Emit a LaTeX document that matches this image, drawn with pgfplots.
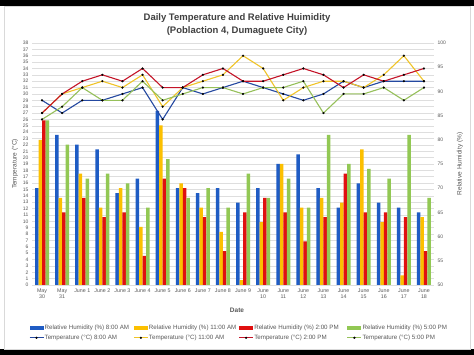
\documentclass[border=0pt]{standalone}
\usepackage{fontspec}
\setmainfont{Liberation Sans}
\usepackage{pgfplots}
\usepackage{pgfplotstable}
\pgfplotsset{compat=1.18}

\definecolor{hblue}{RGB}{31,92,196}
\definecolor{hyellow}{RGB}{252,192,0}
\definecolor{hred}{RGB}{224,16,16}
\definecolor{hgreen}{RGB}{146,200,84}
\definecolor{tblue}{RGB}{36,72,160}
\definecolor{tyellow}{RGB}{240,196,40}
\definecolor{tred}{RGB}{196,20,40}
\definecolor{tgreen}{RGB}{150,192,90}
\definecolor{txt}{RGB}{89,89,89}
\definecolor{ttl}{RGB}{64,64,64}
\definecolor{grd}{RGB}{222,222,222}

% humidity (%) at 8 AM, 11 AM, 2 PM, 5 PM
\pgfplotstableread{
x h8 h11 h14 h17
0 70 80 84 84
1 81 68 65 79
2 79 73 68 72
3 78 66 64 73
4 69 70 65 71
5 72 62 56 66
6 86 83 72 76
7 70 71 70 68
8 69 66 64 70
9 70 61 57 66
10 67 51 65 73
11 70 63 68 68
12 75 75 65 72
13 77 66 59 66
14 70 68 64 81
15 66 67 73 75
16 71 78 65 74
17 67 63 65 72
18 66 52 64 81
19 65 64 57 68
}\humid

% temperature (C) at 8 AM, 11 AM, 2 PM, 5 PM
\pgfplotstableread{
x t8 t11 t14 t17
0 29 27 27 26
1 27 30 30 28
2 29 31 32 31
3 29 32 33 29
4 30 31 32 29
5 31 33 34 32
6 26 28 31 29
7 31 31 31 30
8 30 32 33 31
9 31 33 34 31
10 32 36 32 30
11 31 34 32 31
12 30 29 33 31
13 29 31 34 32
14 30 32 33 27
15 32 32 31 30
16 31 31 33 30
17 32 33 32 31
18 32 36 33 29
19 32 32 34 31
}\temp

\pgfplotsset{
  common/.style={
    scale only axis, width=402pt, height=242pt,
    at={(32pt,70pt)}, anchor=south west,
    xmin=-0.5, xmax=19.5,
    axis line style={draw=none}, tick style={draw=none},
    /pgf/number format/assume math mode=true,
    tick label style={font=\fontsize{5}{6}\selectfont, text=txt},
  },
  tline/.style={line width=1.1pt, mark=*, mark size=1pt,
    mark options={fill=black, draw=black, line width=0.2pt}},
  tleg/.style={legend image code/.code={
    \draw[mark repeat=2,mark phase=2] plot coordinates {(0pt,0pt) (7pt,0pt) (14pt,0pt)};}},
  hleg/.style={legend image code/.code={
    \fill (0pt,-1.6pt) rectangle (14pt,1.6pt);}},
}

\begin{document}
\begin{tikzpicture}[x=1pt,y=1pt]
\fill[white] (0,0) rectangle (474,355);
\fill[black] (0,349) rectangle (474,355);
\fill[black] (0,0) rectangle (474,6);
\draw[black!15, line width=0.6pt] (4,6) rectangle (470,349);

% grid and left axis / x ticks
\begin{axis}[common,
  ymin=0, ymax=38, ytick={0,1,...,38},
  ymajorgrids, major grid style={grd, line width=0.5pt},
  xtick={0,1,...,19},
  xticklabels={{May\\30},{May\\31},June 1,June 2,June 3,June 4,June 5,June 6,June 7,June 8,June 9,{June\\10},{June\\11},{June\\12},{June\\13},{June\\14},{June\\15},{June\\16},{June\\17},{June\\18}},
  x tick label style={align=center, font=\fontsize{5.3}{6.2}\selectfont},
]
\addplot[draw=none] coordinates {(0,0)};
\end{axis}

% humidity bars, right axis
\begin{axis}[common,
  axis y line*=right, hide x axis,
  ymin=50, ymax=100, ytick={50,55,...,100},
  ybar=0pt, bar width=3.5pt,
]
\addplot[fill=hblue, draw=none] table[x=x, y=h8] {\humid};
\addplot[fill=hyellow, draw=none] table[x=x, y=h11] {\humid};
\addplot[fill=hred, draw=none] table[x=x, y=h14] {\humid};
\addplot[fill=hgreen, draw=none] table[x=x, y=h17] {\humid};
\end{axis}

% temperature lines
\begin{axis}[common,
  hide axis,
  ymin=0, ymax=38,
  legend columns=4,
  legend style={at={(-0.008,-0.198)}, anchor=west, draw=none, fill=none,
    inner sep=0pt, row sep=2.6pt,
    font=\fontsize{6.2}{7}\selectfont, text=txt,
    nodes={inner sep=0.6pt}},
  legend cell align=left,
]
\addlegendimage{hleg, fill=hblue, draw=none}
\addlegendentry{\makebox[88pt][l]{Relative Humidity (\%) 8:00 AM}}
\addlegendimage{hleg, fill=hyellow, draw=none}
\addlegendentry{\makebox[89pt][l]{Relative Humidity (\%) 11:00 AM}}
\addlegendimage{hleg, fill=hred, draw=none}
\addlegendentry{\makebox[92pt][l]{Relative Humidity (\%) 2:00 PM}}
\addlegendimage{hleg, fill=hgreen, draw=none}
\addlegendentry{Relative Humidity (\%) 5:00 PM}
\addplot[tline, tleg, color=tblue] table[x=x, y=t8] {\temp};
\addlegendentry{Temperature (°C) 8:00 AM}
\addplot[tline, tleg, color=tyellow] table[x=x, y=t11] {\temp};
\addlegendentry{Temperature (°C) 11:00 AM}
\addplot[tline, tleg, color=tred] table[x=x, y=t14] {\temp};
\addlegendentry{Temperature (°C) 2:00 PM}
\addplot[tline, tleg, color=tgreen] table[x=x, y=t17] {\temp};
\addlegendentry{Temperature (°C) 5:00 PM}
\end{axis}

% titles and axis labels
\node[align=center, font=\fontsize{9.5}{13}\selectfont\bfseries, text=ttl] at (237,330.5)
  {Daily Temperature and Relative Huimidity\\(Poblaction 4, Dumaguete City)};
\node[rotate=90, font=\fontsize{6.5}{7.5}\selectfont, text=txt] at (15,191) {Temperature (°C)};
\node[rotate=90, font=\fontsize{6.5}{7.5}\selectfont, text=txt] at (460,191) {Relative Humidity (\%)};
\node[font=\fontsize{6.5}{7.5}\selectfont\bfseries, text=txt] at (237,45) {Date};
\end{tikzpicture}
\end{document}
